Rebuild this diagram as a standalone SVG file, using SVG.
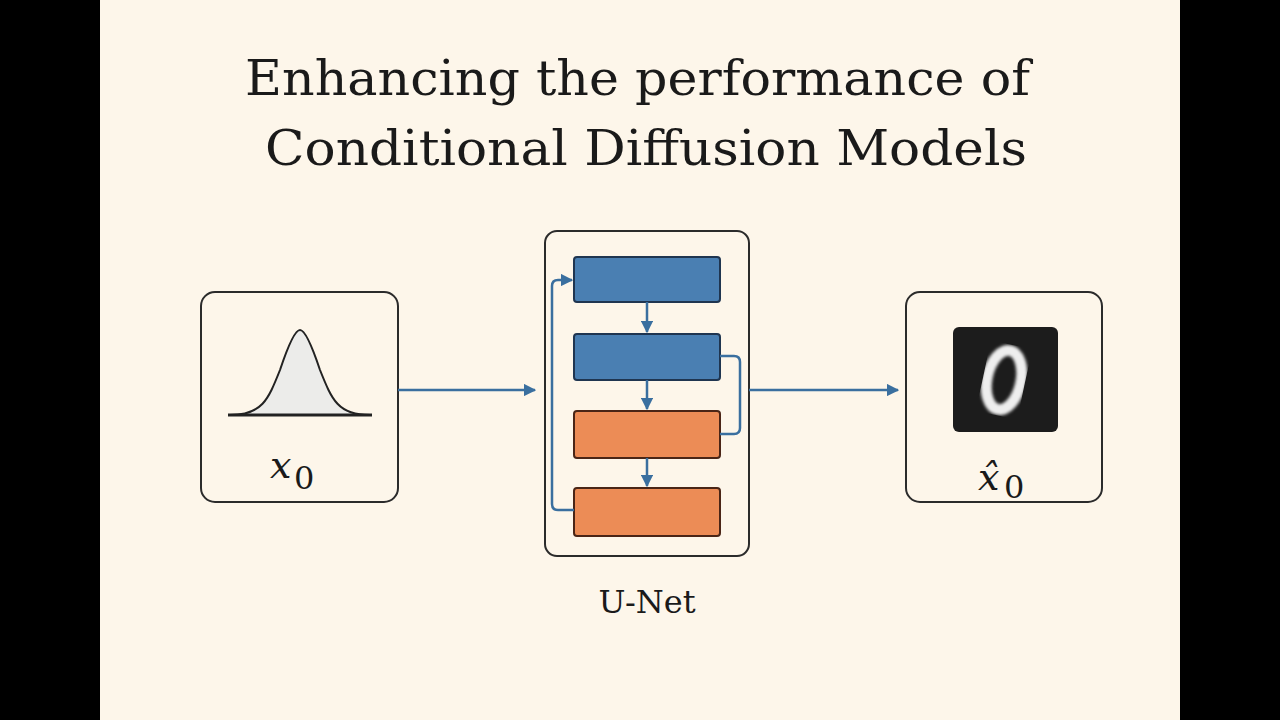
<svg xmlns="http://www.w3.org/2000/svg" width="1280" height="720" viewBox="0 0 1280 720">
<defs>
<marker id="ah" viewBox="0 0 10 10" refX="9" refY="5" markerWidth="5" markerHeight="5" orient="auto"><path d="M0,0L10,5L0,10z" fill="#3a6f9f"/></marker>
<filter id="bl"><feGaussianBlur stdDeviation="1.5"/></filter>
</defs>
<style>
.box{fill:#fdf6ea;stroke:#2b2b2b;stroke-width:2}
.blue{fill:#4a7fb2;stroke:#1f3550;stroke-width:2}
.org{fill:#ec8c56;stroke:#4a2516;stroke-width:2}
.c{fill:none;stroke:#3a6f9f;stroke-width:2.5}
.t{font-family:"DejaVu Serif","Liberation Serif",serif;fill:#1a1a1a}
.m{font-family:"DejaVu Serif","Liberation Serif",serif;font-style:italic;fill:#1a1a1a}
</style>
<rect width="1280" height="720" fill="#000"/>
<rect x="100" width="1080" height="720" fill="#fdf6ea"/>
<g id="title"><text class="t" x="245" y="95" font-size="48" textLength="785" lengthAdjust="spacingAndGlyphs">Enhancing the performance of</text>
<text class="t" x="265" y="165" font-size="48" textLength="762" lengthAdjust="spacingAndGlyphs">Conditional Diffusion Models</text></g>
<g id="x0"><rect class="box" x="201" y="292" width="197" height="210" rx="14"/>
<path d="M230,415 C262,415 268,400 280,370 C290,340 296,330 300,330 C304,330 310,340 320,370 C332,400 338,415 370,415 Z" fill="#ececea" stroke="#222" stroke-width="2"/>
<line x1="228" y1="415" x2="372" y2="415" stroke="#222" stroke-width="3"/>
<text class="m" x="270" y="478" font-size="38">x</text><text class="t" x="294" y="489" font-size="32">0</text></g>
<g id="unet"><rect class="box" x="545" y="231" width="204" height="325" rx="12"/>
<rect class="blue" x="574" y="257" width="146" height="45" rx="3"/>
<rect class="blue" x="574" y="334" width="146" height="46" rx="3"/>
<rect class="org" x="574" y="411" width="146" height="47" rx="3"/>
<rect class="org" x="574" y="488" width="146" height="48" rx="3"/>
<text class="t" x="647" y="613" font-size="32" text-anchor="middle">U-Net</text></g>
<g id="xhat"><rect class="box" x="906" y="292" width="196" height="210" rx="14"/>
<rect x="953" y="327" width="105" height="105" rx="6" fill="#1c1c1c"/>
<ellipse cx="1004" cy="380" rx="17" ry="30" transform="rotate(12 1004 380)" fill="none" stroke="#eee" stroke-width="11" filter="url(#bl)"/>
<text class="m" x="978" y="490" font-size="38">x̂</text><text class="t" x="1004" y="498" font-size="32">0</text></g>
<g id="connectors">
<line class="c" x1="398" y1="390" x2="535" y2="390" marker-end="url(#ah)"/>
<line class="c" x1="749" y1="390" x2="898" y2="390" marker-end="url(#ah)"/>
<line class="c" x1="647" y1="302" x2="647" y2="332" marker-end="url(#ah)"/>
<line class="c" x1="647" y1="380" x2="647" y2="409" marker-end="url(#ah)"/>
<line class="c" x1="647" y1="458" x2="647" y2="486" marker-end="url(#ah)"/>
<path class="c" d="M720,356 H734 Q740,356 740,362 V428 Q740,434 734,434 H720"/>
<path class="c" d="M574,510 H558 Q552,510 552,504 V286 Q552,280 558,280 H572" marker-end="url(#ah)"/>
</g>
</svg>
